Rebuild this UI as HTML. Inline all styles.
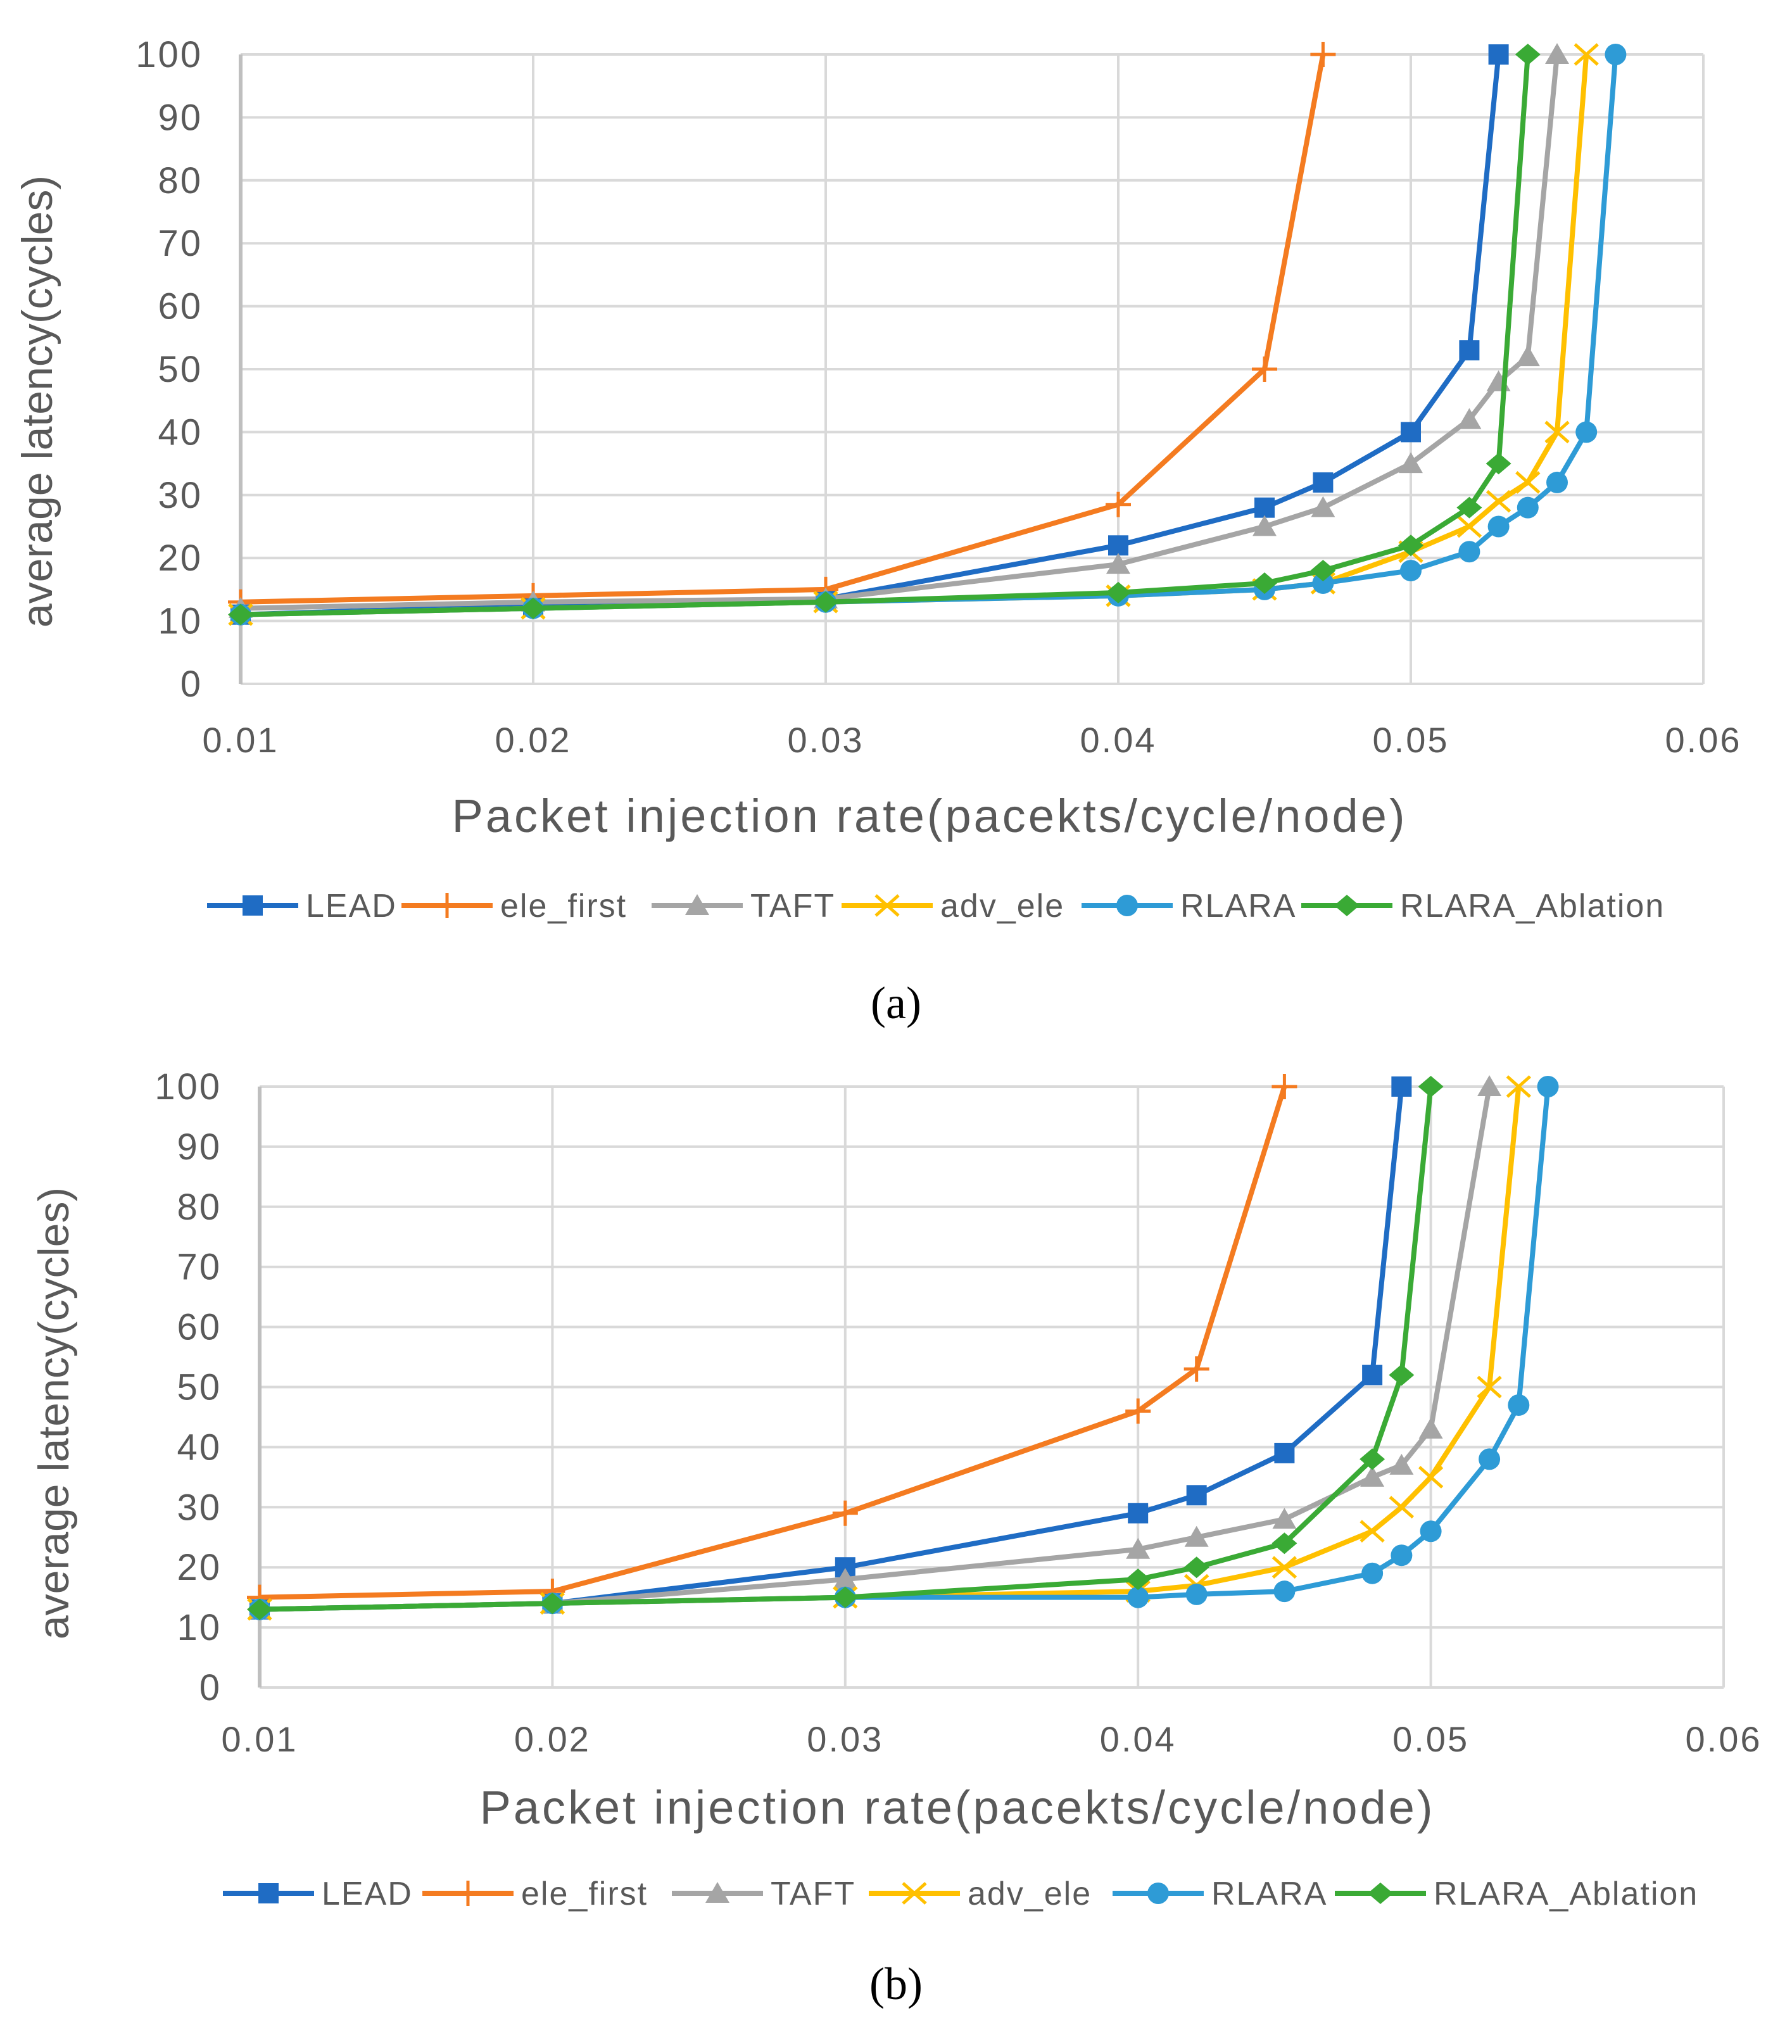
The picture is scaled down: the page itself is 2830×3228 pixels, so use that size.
<!DOCTYPE html>
<html><head><meta charset="utf-8"><style>
html,body{margin:0;padding:0;background:#fff;overflow:hidden;}
svg{display:block;font-family:"Liberation Sans","DejaVu Sans",sans-serif;}
</style></head><body>
<svg id="fig" width="2830" height="3228" viewBox="0 0 2830 3228" xmlns="http://www.w3.org/2000/svg"></svg>
<script>
const seriesNames=["LEAD","ele_first","TAFT","adv_ele","RLARA","RLARA_Ablation"];
const colors=["#1f6cc4","#f47b20","#a5a5a5","#ffc000","#2e9bd6","#3aaa35"];
const markers=["square","plus","triangle","x","circle","diamond"];
const xTicks=[0.01,0.02,0.03,0.04,0.05,0.06];
const xTickLabels=["0.01","0.02","0.03","0.04","0.05","0.06"];
const yTicks=[0,10,20,30,40,50,60,70,80,90,100];
// chart a
const aLEADx=[0.01,0.02,0.03,0.04,0.045,0.047,0.05,0.052,0.053];
const aLEADy=[11,12.5,13.5,22,28,32,40,53,100];
const aEleX=[0.01,0.02,0.03,0.04,0.045,0.047];
const aEleY=[13,14,15,28.5,50,100];
const aTAFTx=[0.01,0.02,0.03,0.04,0.045,0.047,0.05,0.052,0.053,0.054,0.055];
const aTAFTy=[12,13,13.5,19,25,28,35,42,48,52,100];
const aAdvX=[0.01,0.02,0.03,0.04,0.045,0.047,0.05,0.052,0.053,0.054,0.055,0.056];
const aAdvY=[11,12,13,14,15,16,21,25,29,32,40,100];
const aRLx=[0.01,0.02,0.03,0.04,0.045,0.047,0.05,0.052,0.053,0.054,0.055,0.056,0.057];
const aRLy=[11,12,13,14,15,16,18,21,25,28,32,40,100];
const aAbX=[0.01,0.02,0.03,0.04,0.045,0.047,0.05,0.052,0.053,0.054];
const aAbY=[11,12,13,14.5,16,18,22,28,35,100];
// chart b
const bLEADx=[0.01,0.02,0.03,0.04,0.042,0.045,0.048,0.049];
const bLEADy=[13,14,20,29,32,39,52,100];
const bEleX=[0.01,0.02,0.03,0.04,0.042,0.045];
const bEleY=[15,16,29,46,53,100];
const bTAFTx=[0.01,0.02,0.03,0.04,0.042,0.045,0.048,0.049,0.05,0.052];
const bTAFTy=[13,14,18,23,25,28,35,37,43,100];
const bAdvX=[0.01,0.02,0.03,0.04,0.042,0.045,0.048,0.049,0.05,0.052,0.053];
const bAdvY=[13,14,15,16,17,20,26,30,35,50,100];
const bRLx=[0.01,0.02,0.03,0.04,0.042,0.045,0.048,0.049,0.05,0.052,0.053,0.054];
const bRLy=[13,14,15,15,15.5,16,19,22,26,38,47,100];
const bAbX=[0.01,0.02,0.03,0.04,0.042,0.045,0.048,0.049,0.05];
const bAbY=[13,14,15,18,20,24,38,52,100];

const NS="http://www.w3.org/2000/svg";
const svg=document.getElementById("fig");
function mk(tag,attrs,parent){const e=document.createElementNS(NS,tag);for(const k in attrs)e.setAttribute(k,attrs[k]);(parent||svg).appendChild(e);return e;}

function marker(g,type,cx,cy,col){
  let e;
  if(type==="square"){e=mk("rect",{x:cx-16,y:cy-16,width:32,height:32,fill:col},g);}
  else if(type==="circle"){e=mk("circle",{cx:cx,cy:cy,r:17,fill:col},g);}
  else if(type==="triangle"){e=mk("polygon",{points:`${cx},${cy-18} ${cx+19},${cy+15} ${cx-19},${cy+15}`,fill:col},g);}
  else if(type==="diamond"){e=mk("polygon",{points:`${cx},${cy-17} ${cx+20},${cy} ${cx},${cy+17} ${cx-20},${cy}`,fill:col},g);}
  else if(type==="plus"){e=mk("path",{d:`M${cx-20},${cy}H${cx+20}M${cx},${cy-20}V${cy+20}`,stroke:col,"stroke-width":5,fill:"none"},g);}
  else {e=mk("path",{d:`M${cx-18},${cy-16}L${cx+18},${cy+16}M${cx+18},${cy-16}L${cx-18},${cy+16}`,stroke:col,"stroke-width":5,fill:"none"},g);}
  
  
}

function chart(id,cfg,xs,ys){
  const g=mk("g",{});
  
  
  const X=v=>cfg.x0+(v-0.01)/0.05*(cfg.x1-cfg.x0);
  const Y=v=>cfg.y0-(v/100)*(cfg.y0-cfg.y1);
  const grid=mk("g",{},g);
  
  
  yTicks.forEach(t=>{
    mk("line",{x1:cfg.x0,x2:cfg.x1,y1:Y(t),y2:Y(t),stroke:"#d9d9d9","stroke-width":4},grid);
    const tl=mk("text",{x:cfg.x0-60,y:Y(t)+20,"text-anchor":"end","font-size":58,fill:"#595959","letter-spacing":3},g);
    tl.textContent=t;
    
    
  });
  xTicks.forEach((t,i)=>{
    mk("line",{x1:X(t),x2:X(t),y1:cfg.y1,y2:cfg.y0,stroke:i===0?"#bfbfbf":"#d9d9d9","stroke-width":i===0?6:4},grid);
    const tl=mk("text",{x:X(t),y:cfg.tickY,"text-anchor":"middle","font-size":56,fill:"#595959","letter-spacing":3},g);
    tl.textContent=xTickLabels[i];
    
    
  });
  for(let s=0;s<6;s++){
    const sg=mk("g",{},g);
    
    
    const pts=xs[s].map((v,i)=>X(v)+","+Y(ys[s][i])).join(" ");
    mk("polyline",{points:pts,fill:"none",stroke:colors[s],"stroke-width":8,"stroke-linejoin":"round"},sg);
    xs[s].forEach((v,i)=>marker(sg,markers[s],X(v),Y(ys[s][i]),colors[s]));
  }
  const xt=mk("text",{x:cfg.titleX,y:cfg.titleY,"text-anchor":"middle","font-size":74,fill:"#595959","letter-spacing":4},g);
  xt.textContent="Packet injection rate(pacekts/cycle/node)";
  
  
  const yt=mk("text",{x:0,y:0,"text-anchor":"middle","font-size":68,fill:"#595959",transform:`translate(${cfg.ytX},${cfg.ytY}) rotate(-90)`},g);
  yt.textContent="average latency(cycles)";
  
  
  const lg=mk("g",{},g);
  
  
  for(let s=0;s<6;s++){
    const eg=mk("g",{},lg);
    
    
    const lx=cfg.legX[s];
    mk("line",{x1:lx,x2:lx+144,y1:cfg.legY,y2:cfg.legY,stroke:colors[s],"stroke-width":8},eg);
    marker(eg,markers[s],lx+72,cfg.legY,colors[s]);
    const t=mk("text",{x:lx+156,y:cfg.legY+18,"font-size":52,fill:"#595959","letter-spacing":2},eg);
    t.textContent=seriesNames[s];
  }
  const cap=mk("text",{x:1415,y:cfg.capY,"text-anchor":"middle","font-size":72,fill:"#000","font-family":"Liberation Serif, serif"},g);
  cap.textContent=cfg.cap;
  
  
}
chart("a",{x0:380,x1:2690,y0:1080,y1:86,tickY:1188,titleX:1468,titleY:1314,ytX:82,ytY:634,legY:1430,capY:1608,cap:"(a)",
  legX:[327,634,1029,1329,1708,2055]},
  [aLEADx,aEleX,aTAFTx,aAdvX,aRLx,aAbX],[aLEADy,aEleY,aTAFTy,aAdvY,aRLy,aAbY]);
chart("b",{x0:410,x1:2722,y0:2665,y1:1716,tickY:2766,titleX:1512,titleY:2880,ytX:108,ytY:2232,legY:2990,capY:3157,cap:"(b)",
  legX:[352,667,1061,1372,1757,2108]},
  [bLEADx,bEleX,bTAFTx,bAdvX,bRLx,bAbX],[bLEADy,bEleY,bTAFTy,bAdvY,bRLy,bAbY]);
</script>
</body></html>
